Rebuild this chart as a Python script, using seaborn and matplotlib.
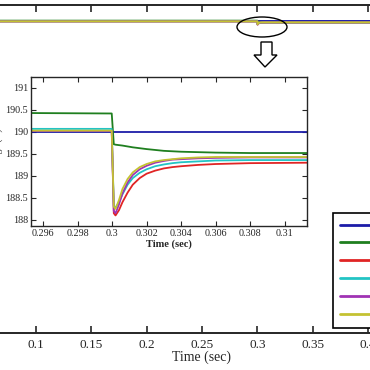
import numpy as np
import pandas as pd
import matplotlib
matplotlib.use("Agg")
import matplotlib.pyplot as plt
import seaborn as sns
from matplotlib.patches import Ellipse, Polygon

# zoomed time points (sec)
t_zoom = [0.2953, 0.29998, 0.3001, 0.3002, 0.3004, 0.3006, 0.3009, 0.3012, 0.3016,
          0.302, 0.3025, 0.303, 0.3035, 0.304, 0.305, 0.306, 0.308, 0.3113]

# voltage series (V)
v_blue = [190.0, 190.0, 190.0, 190.0, 190.0, 190.0, 190.0, 190.0, 190.0,
          190.0, 190.0, 190.0, 190.0, 190.0, 190.0, 190.0, 190.0, 190.0]
v_green = [190.43, 190.42, 189.72, 189.71, 189.70, 189.69, 189.67, 189.65, 189.63,
           189.61, 189.59, 189.57, 189.56, 189.55, 189.54, 189.53, 189.52, 189.52]
v_red = [190.02, 190.02, 188.15, 188.10, 188.22, 188.40, 188.62, 188.80, 188.95,
         189.05, 189.12, 189.17, 189.20, 189.22, 189.25, 189.27, 189.29, 189.30]
v_cyan = [190.07, 190.07, 188.30, 188.28, 188.40, 188.58, 188.80, 188.95, 189.07,
          189.15, 189.22, 189.26, 189.29, 189.31, 189.33, 189.35, 189.36, 189.36]
v_magenta = [190.02, 190.02, 188.20, 188.15, 188.35, 188.60, 188.85, 189.02, 189.15,
             189.23, 189.30, 189.34, 189.37, 189.38, 189.40, 189.41, 189.42, 189.42]
v_yellow = [190.03, 190.03, 188.30, 188.25, 188.45, 188.70, 188.93, 189.08, 189.20,
            189.27, 189.33, 189.36, 189.38, 189.40, 189.42, 189.43, 189.43, 189.43]

# full-run time span
t_start = 0.0
t_end = 0.5

labels = ["Reference", "Case 1", "Case 2", "Case 3", "Case 4", "Case 5"]
colors = ["#1c1ca8", "#1f7f1f", "#e02424", "#22c4c4", "#a033b4", "#c4c232"]
series = [v_blue, v_green, v_red, v_cyan, v_magenta, v_yellow]

main_ticks = [0.1, 0.15, 0.2, 0.25, 0.3, 0.35, 0.4]
inset_xticks = [0.296, 0.298, 0.3, 0.302, 0.304, 0.306, 0.308, 0.31]
inset_yticks = [188, 188.5, 189, 189.5, 190, 190.5, 191]

sns.set_style("ticks")
plt.rcParams["font.family"] = ["Liberation Serif", "DejaVu Serif"]
plt.rcParams["xtick.direction"] = "in"
plt.rcParams["ytick.direction"] = "in"

W = 370.0
fig = plt.figure(figsize=(3.7, 3.7), dpi=100)

def box(x0, y0, x1, y1):
    # pixel box -> figure fraction [left, bottom, width, height]
    return [x0 / W, 1 - y1 / W, (x1 - x0) / W, (y1 - y0) / W]

# main axes (partly outside the canvas, like the cropped original)
ax = fig.add_axes(box(-75, 5, 479, 333))
for lab, col, v in zip(labels, colors, series):
    tt = [t_start] + t_zoom + [t_end]
    vv = [v[0]] + v + [v[-1]]
    sns.lineplot(x=tt, y=vv, color=col, lw=1.4, ax=ax, label=lab, legend=False)
ax.set_xlim(0, 0.5)
ax.set_ylim(0, 200)
ax.set_xticks(main_ticks)
ax.set_xticklabels([f"{v:g}" for v in main_ticks], fontsize=9.5)
ax.tick_params(axis="x", top=True, length=5, width=1.2, pad=4)
ax.tick_params(axis="y", right=True, length=5)
ax.set_yticks([])
for s in ax.spines.values():
    s.set_linewidth(1.4)
ax.set_xlabel("Time (sec)", fontsize=10, labelpad=0)

leg = ax.legend(loc="upper left", bbox_to_anchor=(333 / W, 1 - 213 / W),
                bbox_transform=fig.transFigure, fontsize=9, frameon=True,
                fancybox=False, framealpha=1, edgecolor="black",
                handlelength=3.2, borderpad=0.55, labelspacing=0.47,
                borderaxespad=0)
leg.get_frame().set_linewidth(1.2)
for h in leg.get_lines():
    h.set_linewidth(2)

# ellipse + hollow arrow
fig.add_artist(Ellipse((262 / W, 1 - 27 / W), 50 / W, 20 / W, fill=False,
                       edgecolor="black", lw=1, transform=fig.transFigure))
arrow_px = [(261, 42), (272, 42), (272, 55), (277, 55), (265, 67),
            (254, 55), (261, 55)]
fig.add_artist(Polygon([(x / W, 1 - y / W) for x, y in arrow_px], closed=True,
                       fill=True, facecolor="white", edgecolor="black", lw=1,
                       transform=fig.transFigure))

# inset
axi = fig.add_axes(box(31, 77, 307, 226))
for lab, col, v in zip(labels, colors, series):
    sns.lineplot(x=t_zoom, y=v, color=col, lw=1.3, ax=axi, legend=False)
axi.set_xlim(0.2953, 0.3113)
axi.set_ylim(187.86, 191.25)
axi.set_xticks(inset_xticks)
axi.set_xticklabels([f"{v:g}" for v in inset_xticks], fontsize=7.3)
axi.set_yticks(inset_yticks)
axi.set_yticklabels([f"{v:g}" for v in inset_yticks], fontsize=7.3)
axi.tick_params(top=True, right=True, length=3.5, width=0.8, pad=2)
for s in axi.spines.values():
    s.set_linewidth(1.0)
axi.set_xlabel("Time (sec)", fontsize=7.5, fontweight="bold", labelpad=1)
axi.set_ylabel("Voltage (V)", fontsize=7)
axi.yaxis.set_label_coords(-0.1, 0.5)

fig.savefig("out.png", dpi=100)
